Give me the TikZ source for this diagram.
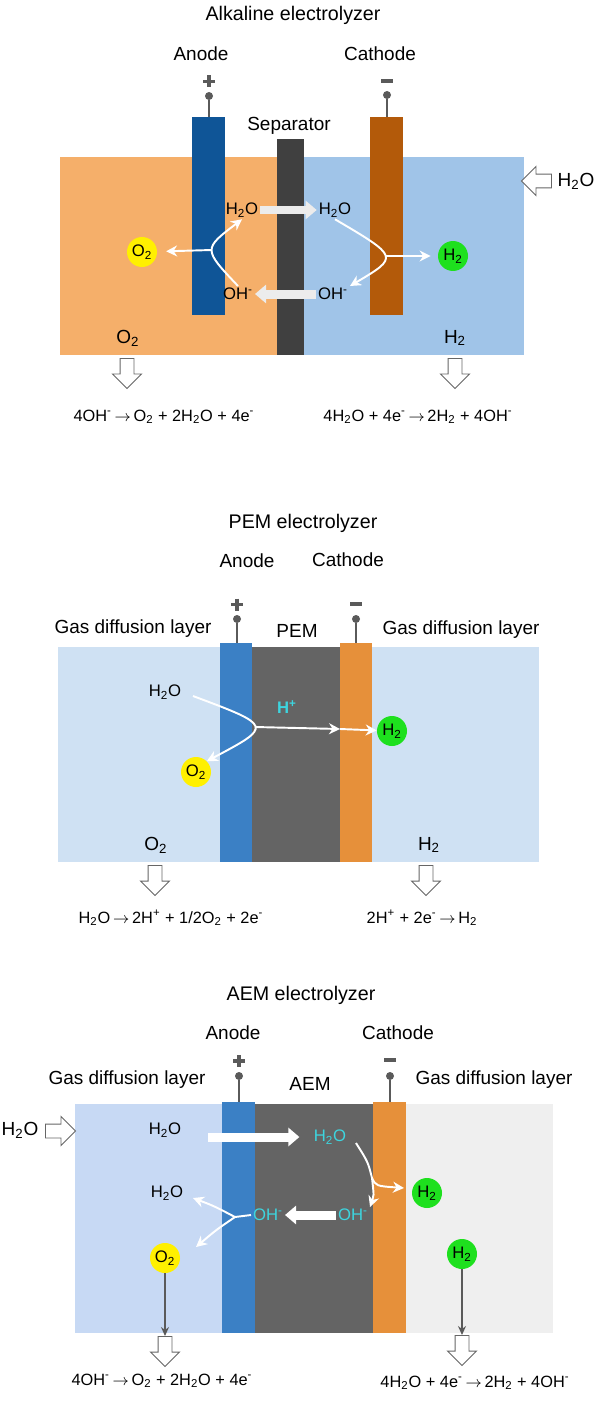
\documentclass[tikz,border=0pt]{standalone}
\usepackage{fontspec}
\setmainfont{Liberation Sans}
\usetikzlibrary{arrows.meta,positioning,shapes.arrows}

\definecolor{alkorange}{HTML}{F5AF6A}
\definecolor{alkblue}{HTML}{A0C4E8}
\definecolor{anodeblue}{HTML}{0F5597}
\definecolor{cathbrown}{HTML}{B35A0A}
\definecolor{sepgrey}{HTML}{404040}
\definecolor{gdlblue}{HTML}{CFE1F3}
\definecolor{elblue}{HTML}{3B80C5}
\definecolor{elorange}{HTML}{E6903A}
\definecolor{memgrey}{HTML}{646464}
\definecolor{aemblue}{HTML}{C7D9F4}
\definecolor{aemgrey}{HTML}{EFEFEF}
\definecolor{ioncyan}{HTML}{3DD5DF}
\definecolor{otwo}{HTML}{FFF000}
\definecolor{htwo}{HTML}{1EE01E}
\definecolor{paleline}{HTML}{ECECEC}
\definecolor{termgrey}{HTML}{5A5A5A}

\newcommand{\water}{H\textsubscript{2}O}
\newcommand{\oxy}{O\textsubscript{2}}
\newcommand{\hyd}{H\textsubscript{2}}
\newcommand{\hydrox}{OH\textsuperscript{-}}
\newcommand{\elec}{e\textsuperscript{-}}
\newcommand{\yields}{\,$\rightarrow$\,}

\begin{document}
\begin{tikzpicture}[x=0.02cm, y=-0.02cm,
    bigtitle/.style={font=\fontsize{11.2}{13}\selectfont, inner sep=1pt},
    heading/.style={font=\fontsize{10.8}{12}\selectfont, inner sep=1pt},
    lbl/.style={font=\fontsize{9.5}{11}\selectfont, inner sep=1pt},
    ion/.style={lbl, text=ioncyan},
    eqn/.style={font=\fontsize{9.3}{11}\selectfont},
    gas/.style={circle, minimum size=0.6cm, inner sep=0pt, font=\fontsize{9.5}{11}\selectfont},
    flow/.style={draw=white, line width=1.1pt, -{Stealth[length=2.2mm, width=2.2mm]}},
    fatarrow/.style={line width=1.8mm, -{Triangle[length=2.2mm, width=3.6mm]}},
    outarrow/.style={single arrow, draw=black!60, fill=white, line width=0.55pt,
        minimum height=0.6cm, inner sep=0.13cm, single arrow head extend=0.15cm},
    drop/.style={draw=termgrey, line width=0.8pt, -{Stealth[length=1.8mm, width=1.6mm]}},
    term/.style={circle, fill=termgrey, inner sep=0pt, minimum size=1.6mm},
    wire/.style={draw=termgrey, line width=0.6pt},
    signbar/.style={draw=termgrey, line width=2.2pt}
]
\useasboundingbox (0,0) rectangle (598,1402);

% alkaline
\node[bigtitle] (alktitle) at (293,15) {Alkaline electrolyzer};
\node[heading] (alkanode) at (201,54) {Anode};
\node[heading] (alkcath) at (380,54) {Cathode};
\node[heading] (alksep) at (289,126) {Separator};
\fill[alkorange] (60,157) rectangle (277,355);
\fill[alkblue] (304,157) rectangle (524,355);
\fill[sepgrey] (277,139) rectangle (304,355);
\fill[anodeblue] (192,117) rectangle (225,315);
\fill[cathbrown] (370,117) rectangle (403,315);
\draw[signbar] (203,81.5) -- (215,81.5) (209,75.5) -- (209,87.5);
\draw[signbar] (381,81) -- (393,81);
\node[term] (alkdota) at (209,96) {};
\node[term] (alkdotc) at (387,95) {};
\coordinate (alktopa) at (209,117);
\coordinate (alktopc) at (387,117);
\draw[wire] (alkdota) -- (alktopa);
\draw[wire] (alkdotc) -- (alktopc);
\node[outarrow, shape border rotate=180] (alkin) at (540,181) {};
\node[heading] (alkinw) at (576,181) {\water};

\node[lbl] (alkwl) at (242,210) {\water};
\node[lbl] (alkwr) at (335,210) {\water};
\node[lbl] (alkhl) at (238,294) {\hydrox};
\node[lbl] (alkhr) at (333,294) {\hydrox};
\node[gas, fill=otwo] (alko) at (142,252) {\oxy};
\node[gas, fill=htwo] (alkh) at (453,256) {\hyd};
\coordinate (alkfa) at (212,250);
\coordinate (alkfc) at (385,256);
\draw[fatarrow, paleline] (alkwl.east) -- (alkwr.west);
\draw[fatarrow, paleline] (alkhr.west) -- (alkhl.east);
\draw[flow] (alkhl.north) .. controls (203,249) .. (alkwl.south);
\draw[flow, shorten >=5pt] (alkfa) -- (alko);
\draw[flow] (alkwr.south) .. controls (399,257) .. (alkhr.north east);
\draw[flow, shorten >=4pt] (alkfc) -- (alkh);

\node[heading] (alkog) at (128,338) {\oxy};
\node[heading] (alkhg) at (455,338) {\hyd};
\node[outarrow, shape border rotate=270] (alkout1) at (127,370) {};
\node[outarrow, shape border rotate=270] (alkout2) at (455,370) {};
\node[eqn] (alkeq1) at (164,417) {4\hydrox\yields\oxy{} + 2\water{} + 4\elec};
\node[eqn] (alkeq2) at (418,417) {4\water{} + 4\elec\yields 2\hyd{} + 4\hydrox};

% PEM
\node[bigtitle] (pemtitle) at (303,523) {PEM electrolyzer};
\node[heading] (pemanode) at (247,561) {Anode};
\node[heading] (pemcath) at (348,560) {Cathode};
\node[heading] (pemgdl1) at (133,629) {Gas diffusion layer};
\node[heading] (pemmem) at (297,631) {PEM};
\node[heading] (pemgdl2) at (461,630) {Gas diffusion layer};
\fill[gdlblue] (58,647) rectangle (539,862);
\fill[memgrey] (252,647) rectangle (340,862);
\fill[elblue] (220,643) rectangle (252,862);
\fill[elorange] (340,643) rectangle (372,862);
\draw[signbar] (231,604.5) -- (243,604.5) (237,598.5) -- (237,610.5);
\draw[signbar] (350,604) -- (362,604);
\node[term] (pemdota) at (237,619) {};
\node[term] (pemdotc) at (356,619) {};
\coordinate (pemtopa) at (237,643);
\coordinate (pemtopc) at (356,643);
\draw[wire] (pemdota) -- (pemtopa);
\draw[wire] (pemdotc) -- (pemtopc);

\node[lbl] (pemw) at (165,692) {\water};
\node[ion, font=\bfseries\fontsize{9.5}{11}\selectfont] (pemhp) at (287,707) {H\textsuperscript{+}};
\node[gas, fill=otwo] (pemo) at (196,772) {\oxy};
\node[gas, fill=htwo] (pemh) at (392,731) {\hyd};
\coordinate (pemws) at (193,696);
\coordinate (pemf) at (255,727);
\coordinate (pemc) at (340,729);
\draw[flow] (pemws) .. controls (273,726) .. (pemo.north east);
\draw[flow] (pemf) -- (pemc);
\draw[flow] (pemc) -- (pemh);

\node[heading] (pemog) at (156,845) {\oxy};
\node[heading] (pemhg) at (429,845) {\hyd};
\node[outarrow, shape border rotate=270] (pemout1) at (155,877) {};
\node[outarrow, shape border rotate=270] (pemout2) at (426,877) {};
\node[eqn] (pemeq1) at (171,918) {\water\yields 2H\textsuperscript{+} + 1/2\oxy{} + 2\elec};
\node[eqn] (pemeq2) at (422,918) {2H\textsuperscript{+} + 2\elec\yields\hyd};

% AEM
\node[bigtitle] (aemtitle) at (301,995) {AEM electrolyzer};
\node[heading] (aemanode) at (233,1033) {Anode};
\node[heading] (aemcath) at (398,1033) {Cathode};
\node[heading] (aemgdl1) at (127,1080) {Gas diffusion layer};
\node[heading] (aemmem) at (310,1084) {AEM};
\node[heading] (aemgdl2) at (494,1080) {Gas diffusion layer};
\fill[aemblue] (75,1104) rectangle (222,1333);
\fill[memgrey] (255,1104) rectangle (373,1333);
\fill[aemgrey] (406,1104) rectangle (553,1333);
\fill[elblue] (222,1102) rectangle (255,1333);
\fill[elorange] (373,1102) rectangle (406,1333);
\draw[signbar] (233,1061) -- (245,1061) (239,1055) -- (239,1067);
\draw[signbar] (384,1060) -- (396,1060);
\node[term] (aemdota) at (239,1076) {};
\node[term] (aemdotc) at (390,1076) {};
\coordinate (aemtopa) at (239,1102);
\coordinate (aemtopc) at (390,1102);
\draw[wire] (aemdota) -- (aemtopa);
\draw[wire] (aemdotc) -- (aemtopc);
\node[heading] (aeminw) at (20,1130) {\water};
\node[outarrow] (aemin) at (57,1131) {};

\node[lbl] (aemw1) at (165,1130) {\water};
\node[ion] (aemw2) at (330,1137) {\water};
\node[ion] (aemhr) at (353,1215) {\hydrox};
\node[ion] (aemhl) at (268,1215) {\hydrox};
\node[lbl] (aemw3) at (167,1193) {\water};
\node[gas, fill=otwo] (aemo) at (165,1258) {\oxy};
\node[gas, fill=htwo] (aemh1) at (427,1193) {\hyd};
\node[gas, fill=htwo] (aemh2) at (462,1254) {\hyd};
\coordinate (aemws) at (356,1143);
\coordinate (aemfc) at (372,1178);
\coordinate (aemce) at (404,1188);
\coordinate (aemfa) at (235,1217);
\coordinate (aemt1) at (193,1198);
\coordinate (aemt2) at (196,1247);
\draw[fatarrow, white, shorten <=14pt, shorten >=7pt] (aemw1.east |- aemw2) -- (aemw2.west);
\draw[fatarrow, white] (aemhr.west) -- (aemhl.east);
\draw[flow] (aemws) .. controls (368,1162) .. (aemfc) .. controls (376,1186) .. (aemce);
\draw[flow] (aemfc) .. controls (374,1196) .. (aemhr.north east);
\draw[flow] (aemhl.west) -- (aemfa) .. controls (214,1206) .. (aemt1);
\draw[flow] (aemfa) .. controls (216,1230) .. (aemt2);

\node[outarrow, shape border rotate=270] (aemout1) at (165,1348) {};
\node[outarrow, shape border rotate=270] (aemout2) at (462,1347) {};
\draw[drop] (aemo) -- (aemout1.tail);
\draw[drop] (aemh2) -- (aemout2.tail);
\node[eqn] (aemeq1) at (162,1381) {4\hydrox\yields\oxy{} + 2\water{} + 4\elec};
\node[eqn] (aemeq2) at (475,1383) {4\water{} + 4\elec\yields 2\hyd{} + 4\hydrox};
\end{tikzpicture}
\end{document}
